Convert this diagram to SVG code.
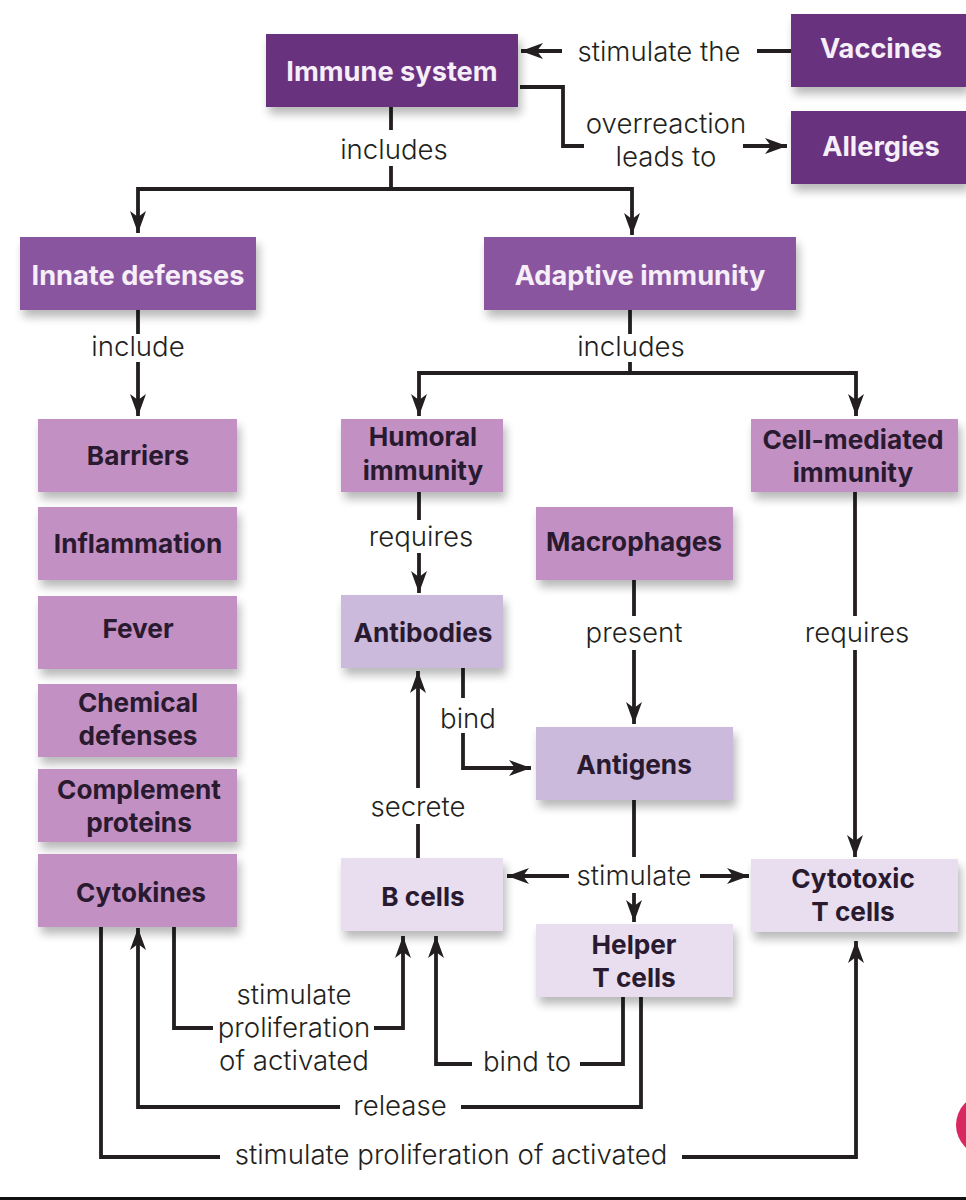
<svg xmlns="http://www.w3.org/2000/svg" width="966" height="1200" viewBox="0 0 966 1200">
<style>
.n{filter:url(#sh)}
.l{font-family:"Inter","Liberation Sans",sans-serif;font-size:27.6px;font-weight:300;fill:#231f20;text-anchor:middle}
.t{font-family:"Inter","Liberation Sans",sans-serif;font-size:26.2px;font-weight:700;text-anchor:middle;fill:#2a1a30}
.w{fill:#f6eef8;font-size:27.2px}
.c1{fill:#68337f}.c2{fill:#8a559f}.c3{fill:#c290c2}.c4{fill:#cbbadc}.c5{fill:#e8deef}
.a{fill:none;stroke:#231f20;stroke-width:3.8}
.am{marker-end:url(#ah)}
</style>
<defs>
<filter id="sh" x="-15%" y="-20%" width="130%" height="150%"><feGaussianBlur in="SourceAlpha" stdDeviation="5"/><feOffset dx="3" dy="7"/><feComponentTransfer><feFuncA type="linear" slope="0.28"/></feComponentTransfer><feMerge><feMergeNode/><feMergeNode in="SourceGraphic"/></feMerge></filter>
<marker id="ah" markerUnits="userSpaceOnUse" markerWidth="26" markerHeight="20" refX="22" refY="10" orient="auto"><path d="M0 2 L22 10 L0 18 L6 10 Z" fill="#231f20"/></marker>
</defs>
<rect width="966" height="1200" fill="#fff"/>
<g id="connectors">
<path class="a am" d="M562 51H521"/><path class="a" d="M757 51H791"/>
<path class="a" d="M520 87H563V146H584"/><path class="a am" d="M743 146H787"/>
<path class="a" d="M391 107V130M391 166V189"/>
<path class="a am" d="M391 189H138V233"/><path class="a am" d="M391 189H632V235"/>
<path class="a" d="M138 310V334"/><path class="a am" d="M138 362V416"/>
<path class="a" d="M630 310V334M630 362V373"/>
<path class="a am" d="M630 373H419V416"/><path class="a am" d="M630 373H856V416"/>
<path class="a" d="M419 492V520"/><path class="a am" d="M419 553V593"/>
<path class="a" d="M855 492V616"/><path class="a am" d="M855 650V857"/>
<path class="a" d="M634 580V616"/><path class="a am" d="M634 650V724"/>
<path class="a" d="M463 668V698"/><path class="a am" d="M463 733V768H531"/>
<path class="a" d="M418 858V824"/><path class="a am" d="M418 788V671"/>
<path class="a" d="M634 800V857"/><path class="a am" d="M634 893V922"/>
<path class="a am" d="M569 876H507"/><path class="a am" d="M700 876H749"/>
<path class="a" d="M174 927V1028H213"/><path class="a am" d="M374 1028H403V936"/>
<path class="a" d="M623 997V1064H580"/><path class="a am" d="M472 1064H436V936"/>
<path class="a" d="M641 997V1107H461"/><path class="a am" d="M340 1107H138V928"/>
<path class="a" d="M101 925V1157H220"/><path class="a am" d="M682 1157H856V941"/>
</g>
<g id="immune-system"><rect class="n c1" x="266" y="34" width="252" height="73"/><text class="t w" x="392" y="81">Immune system</text></g>
<g id="vaccines"><rect class="n c1" x="791" y="14" width="175" height="73"/><text class="t w" x="881" y="58">Vaccines</text></g>
<g id="allergies"><rect class="n c1" x="791" y="111" width="175" height="73"/><text class="t w" x="881" y="156">Allergies</text></g>
<g id="innate-defenses"><rect class="n c2" x="20" y="237" width="236" height="73"/><text class="t w" x="138" y="285">Innate defenses</text></g>
<g id="adaptive-immunity"><rect class="n c2" x="484" y="237" width="312" height="73"/><text class="t w" x="640" y="285">Adaptive immunity</text></g>
<g id="barriers"><rect class="n c3" x="38" y="419" width="199" height="73"/><text class="t" x="138" y="465">Barriers</text></g>
<g id="inflammation"><rect class="n c3" x="38" y="507" width="199" height="73"/><text class="t" x="138" y="553">Inflammation</text></g>
<g id="fever"><rect class="n c3" x="38" y="596" width="199" height="73"/><text class="t" x="138" y="638">Fever</text></g>
<g id="chemical-defenses"><rect class="n c3" x="38" y="684" width="199" height="73"/><text class="t" x="138" y="712">Chemical</text><text class="t" x="138" y="745">defenses</text></g>
<g id="complement-proteins"><rect class="n c3" x="38" y="769" width="199" height="73"/><text class="t" x="139" y="799">Complement</text><text class="t" x="139" y="832">proteins</text></g>
<g id="cytokines"><rect class="n c3" x="38" y="854" width="199" height="73"/><text class="t" x="141" y="902">Cytokines</text></g>
<g id="humoral-immunity"><rect class="n c3" x="341" y="419" width="162" height="73"/><text class="t" x="423" y="446">Humoral</text><text class="t" x="423" y="480">immunity</text></g>
<g id="cell-mediated-immunity"><rect class="n c3" x="751" y="419" width="207" height="73"/><text class="t" x="853" y="449">Cell-mediated</text><text class="t" x="853" y="482">immunity</text></g>
<g id="macrophages"><rect class="n c3" x="536" y="507" width="197" height="73"/><text class="t" x="634" y="551">Macrophages</text></g>
<g id="antibodies"><rect class="n c4" x="341" y="595" width="162" height="73"/><text class="t" x="423" y="642">Antibodies</text></g>
<g id="antigens"><rect class="n c4" x="536" y="727" width="197" height="73"/><text class="t" x="634" y="774">Antigens</text></g>
<g id="b-cells"><rect class="n c5" x="341" y="858" width="162" height="73"/><text class="t" x="423" y="906">B cells</text></g>
<g id="helper-t-cells"><rect class="n c5" x="536" y="924" width="197" height="73"/><text class="t" x="634" y="954">Helper</text><text class="t" x="634" y="987">T cells</text></g>
<g id="cytotoxic-t-cells"><rect class="n c5" x="751" y="859" width="207" height="73"/><text class="t" x="853" y="888">Cytotoxic</text><text class="t" x="853" y="921">T cells</text></g>
<g id="labels">
<text class="l" x="659" y="61">stimulate the</text>
<text class="l" x="666" y="133">overreaction</text><text class="l" x="666" y="166">leads to</text>
<text class="l" x="394" y="159">includes</text>
<text class="l" x="138" y="356">include</text>
<text class="l" x="631" y="356">includes</text>
<text class="l" x="421" y="546">requires</text>
<text class="l" x="857" y="642">requires</text>
<text class="l" x="634" y="642">present</text>
<text class="l" x="468" y="728">bind</text>
<text class="l" x="418" y="816">secrete</text>
<text class="l" x="634" y="885">stimulate</text>
<text class="l" x="294" y="1004">stimulate</text>
<text class="l" x="294" y="1037">proliferation</text>
<text class="l" x="294" y="1070">of activated</text>
<text class="l" x="527" y="1071">bind to</text>
<text class="l" x="400" y="1115">release</text>
<text class="l" x="451" y="1164">stimulate proliferation of activated</text>
</g>
<circle cx="987" cy="1125" r="31" fill="#d8285f"/>
<rect x="0" y="1197" width="966" height="3" fill="#111"/>
</svg>
